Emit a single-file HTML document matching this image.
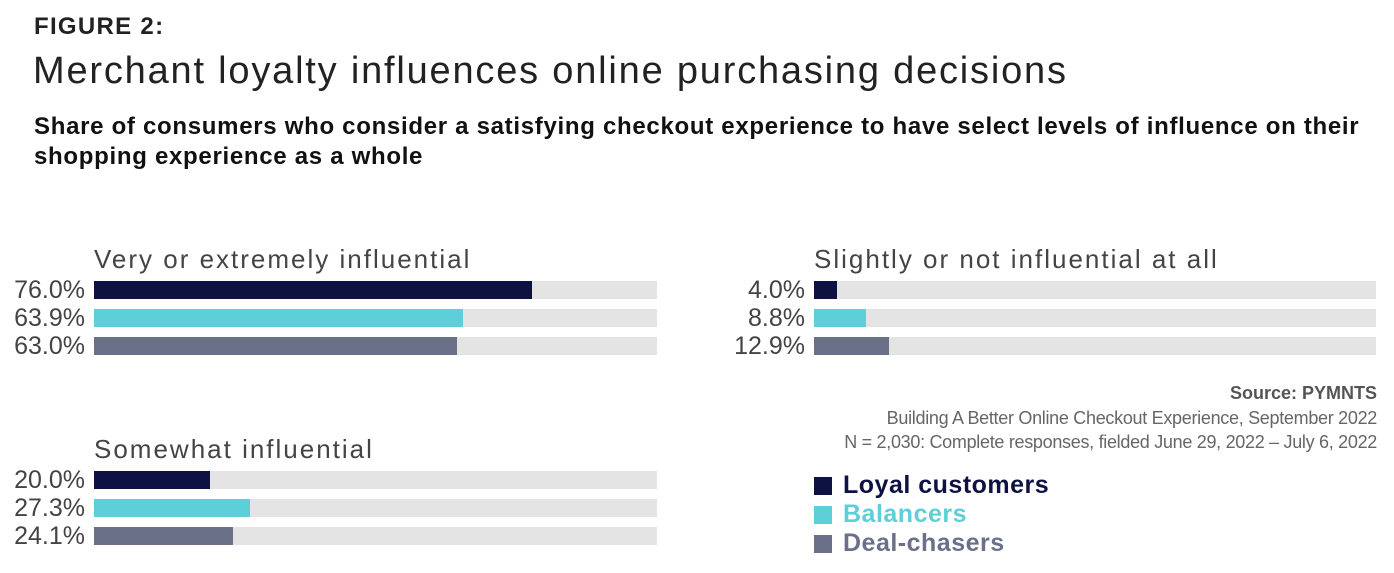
<!DOCTYPE html>
<html><head><style>
body{margin:0;width:1394px;height:573px;background:#fff;position:relative;font-family:"Liberation Sans",sans-serif;overflow:hidden}
.a{position:absolute;white-space:nowrap}
.bg{position:absolute;background:#e4e4e4;height:18px}
.b{position:absolute;height:18px;left:0;top:0}
.lab{position:absolute;font-size:25px;color:#444;text-align:right;width:90px;line-height:18px}
.t{position:absolute;font-size:26px;color:#444;letter-spacing:2px}
.d{background:#0e1242}.c{background:#5ccfd8}.g{background:#6b7089}
</style></head><body>
<div class="a" style="left:34px;top:13px;font-size:24px;font-weight:bold;letter-spacing:1.3px;color:#222">FIGURE 2:</div>
<div class="a" style="left:33px;top:50px;font-size:38px;color:#222;letter-spacing:1.8px">Merchant loyalty influences online purchasing decisions</div>
<div class="a" style="left:34px;top:112px;font-size:24px;font-weight:bold;color:#111;line-height:30px;letter-spacing:0.7px">Share of consumers who consider a satisfying checkout experience to have select levels of influence on their<br>shopping experience as a whole</div>

<div class="t" style="left:94px;top:244px">Very or extremely influential</div>
<div class="lab" style="left:-5px;top:281px">76.0%</div>
<div class="lab" style="left:-5px;top:309px">63.9%</div>
<div class="lab" style="left:-5px;top:337px">63.0%</div>
<div class="bg" style="left:94px;top:281px;width:563px"><div class="b d" style="width:438px"></div></div>
<div class="bg" style="left:94px;top:309px;width:563px"><div class="b c" style="width:369px"></div></div>
<div class="bg" style="left:94px;top:337px;width:563px"><div class="b g" style="width:363px"></div></div>

<div class="t" style="left:814px;top:244px">Slightly or not influential at all</div>
<div class="lab" style="left:715px;top:281px">4.0%</div>
<div class="lab" style="left:715px;top:309px">8.8%</div>
<div class="lab" style="left:715px;top:337px">12.9%</div>
<div class="bg" style="left:814px;top:281px;width:562px"><div class="b d" style="width:23px"></div></div>
<div class="bg" style="left:814px;top:309px;width:562px"><div class="b c" style="width:52px"></div></div>
<div class="bg" style="left:814px;top:337px;width:562px"><div class="b g" style="width:75px"></div></div>

<div class="t" style="left:94px;top:434px">Somewhat influential</div>
<div class="lab" style="left:-5px;top:471px">20.0%</div>
<div class="lab" style="left:-5px;top:499px">27.3%</div>
<div class="lab" style="left:-5px;top:527px">24.1%</div>
<div class="bg" style="left:94px;top:471px;width:563px"><div class="b d" style="width:116px"></div></div>
<div class="bg" style="left:94px;top:499px;width:563px"><div class="b c" style="width:156px"></div></div>
<div class="bg" style="left:94px;top:527px;width:563px"><div class="b g" style="width:139px"></div></div>

<div class="a" style="right:17px;top:383px;font-size:18px;font-weight:bold;color:#555;text-align:right">Source: PYMNTS</div>
<div class="a" style="right:17px;top:408px;font-size:18px;color:#666;text-align:right;letter-spacing:-0.3px">Building A Better Online Checkout Experience, September 2022</div>
<div class="a" style="right:17px;top:432px;font-size:18px;color:#666;text-align:right;letter-spacing:-0.3px">N = 2,030: Complete responses, fielded June 29, 2022 – July 6, 2022</div>

<div class="a d" style="left:814px;top:477px;width:18px;height:18px"></div>
<div class="a c" style="left:814px;top:506px;width:18px;height:18px"></div>
<div class="a g" style="left:814px;top:535px;width:18px;height:18px"></div>
<div class="a" style="left:843px;top:471px;font-size:25px;font-weight:bold;color:#0e1242;letter-spacing:0.5px">Loyal customers</div>
<div class="a" style="left:843px;top:500px;font-size:25px;font-weight:bold;color:#5ccfd8;letter-spacing:0.5px">Balancers</div>
<div class="a" style="left:843px;top:529px;font-size:25px;font-weight:bold;color:#6b7089;letter-spacing:0.5px">Deal-chasers</div>
</body></html>
